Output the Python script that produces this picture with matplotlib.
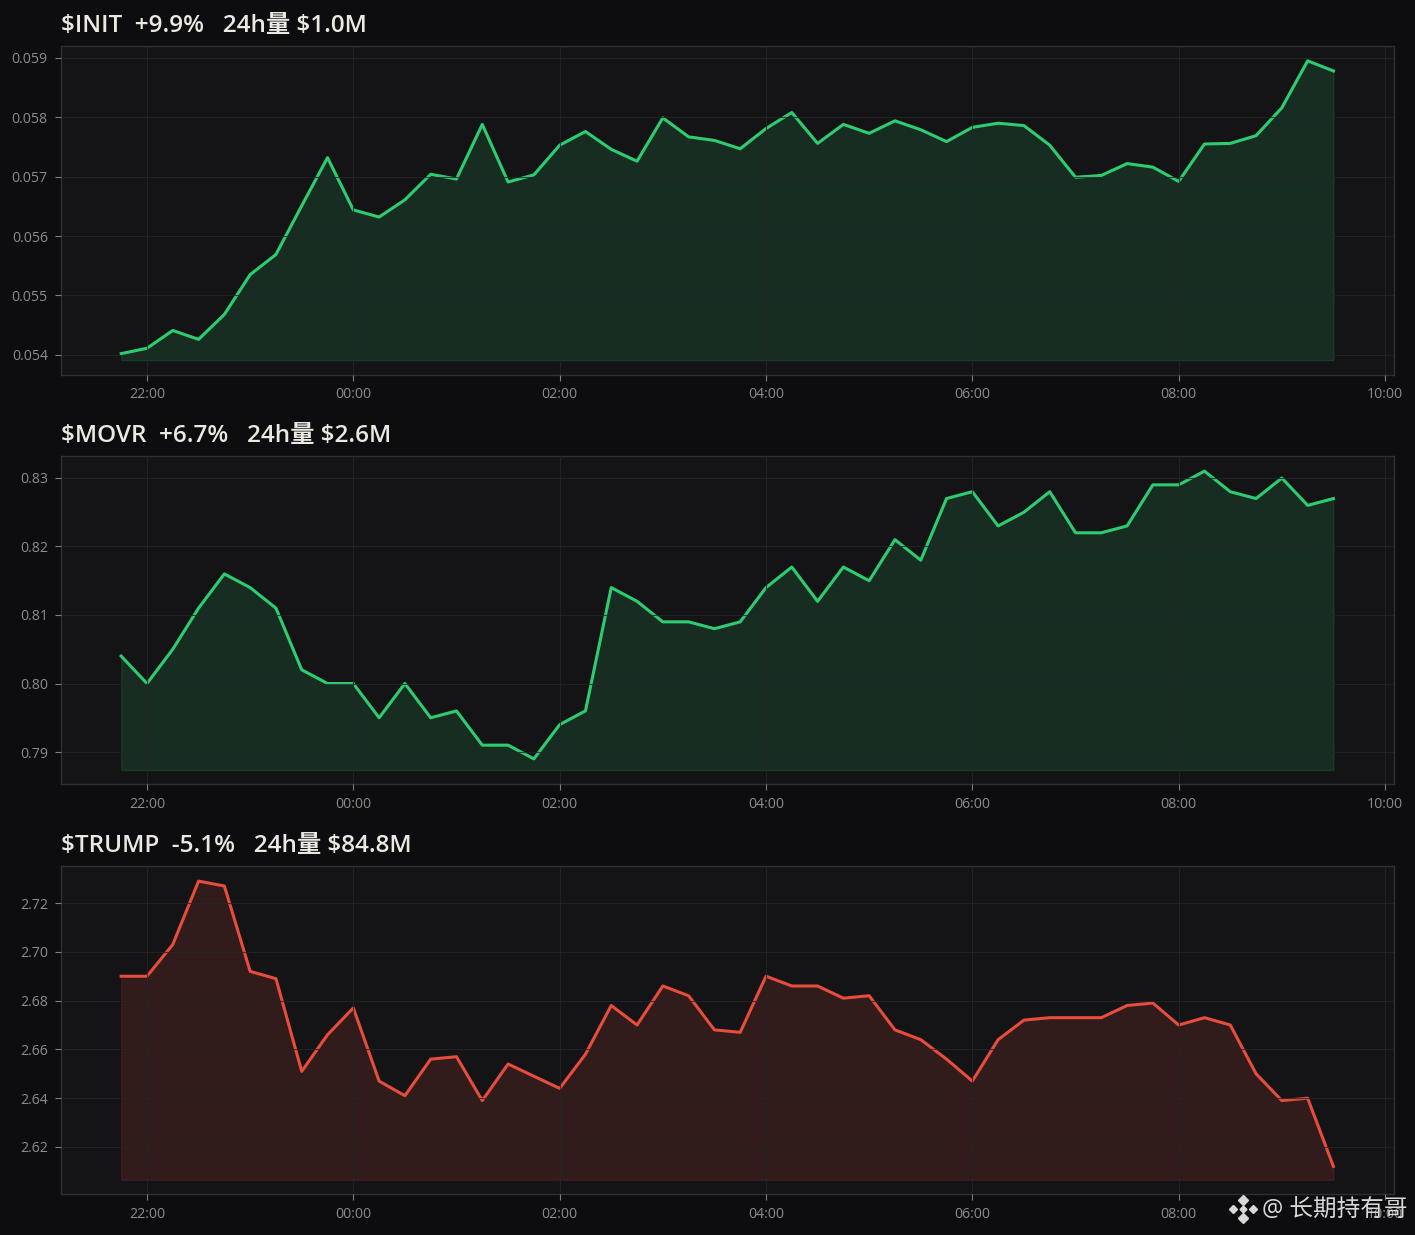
import matplotlib
matplotlib.use("Agg")
import matplotlib.pyplot as plt
import matplotlib.dates as mdates
from matplotlib.lines import Line2D
from matplotlib.ticker import FormatStrFormatter, MultipleLocator
import pandas as pd

plt.rcParams['font.family'] = ['Open Sans', 'Noto Sans CJK SC', 'DejaVu Sans']

times = pd.date_range("2025-01-01 21:45", periods=48, freq="15min")

init_values = [.05402, .05411, .05441, .05426, .05468, .05535, .05569, .05651, .05732, .05644,
               .05632, .05661, .05704, .05696, .05788, .05691, .05703, .05753, .05776, .05746,
               .05726, .05799, .05767, .05761, .05747, .05781, .05808, .05756, .05788, .05773,
               .05794, .05779, .05759, .05783, .05790, .05786, .05753, .05699, .05702, .05722,
               .05716, .05692, .05755, .05756, .05769, .05816, .05895, .05878]
movr_values = [.804, .800, .805, .811, .816, .814, .811, .802, .800, .800,
               .795, .800, .795, .796, .791, .791, .789, .794, .796, .814,
               .812, .809, .809, .808, .809, .814, .817, .812, .817, .815,
               .821, .818, .827, .828, .823, .825, .828, .822, .822, .823,
               .829, .829, .831, .828, .827, .830, .826, .827]
trump_values = [2.690, 2.690, 2.703, 2.729, 2.727, 2.692, 2.689, 2.651, 2.666, 2.677,
                2.647, 2.641, 2.656, 2.657, 2.639, 2.654, 2.649, 2.644, 2.658, 2.678,
                2.670, 2.686, 2.682, 2.668, 2.667, 2.690, 2.686, 2.686, 2.681, 2.682,
                2.668, 2.664, 2.656, 2.647, 2.664, 2.672, 2.673, 2.673, 2.673, 2.678,
                2.679, 2.670, 2.673, 2.670, 2.650, 2.639, 2.640, 2.612]

titles = ["$INIT  +9.9%   24h量 $1.0M", "$MOVR  +6.7%   24h量 $2.6M", "$TRUMP  -5.1%   24h量 $84.8M"]
series = [init_values, movr_values, trump_values]
colors = ["#2ecc71", "#2ecc71", "#e74c3c"]
fill_floors = [0.05391, 0.78737, 2.6065]
y_limits = [(0.05366, 0.05920), (0.78533, 0.83321), (2.6007, 2.7352)]
y_steps = [0.001, 0.01, 0.02]
y_formats = ['%.3f', '%.2f', '%.2f']

W, H = 1415, 1235
BG = "#0d0d10"
PANEL = "#141416"
fig = plt.figure(figsize=(W / 100, H / 100), dpi=100, facecolor=BG)
tops = [46, 456, 866]
bottoms = [375, 784, 1194]
x0 = pd.Timestamp("2025-01-01 21:10")
x1 = x0 + pd.Timedelta(hours=(1394 - 61) / 103.17)

for i in range(3):
    ax = fig.add_axes([61 / W, 1 - bottoms[i] / H, (1394 - 61) / W, (bottoms[i] - tops[i]) / H], facecolor=PANEL)
    ax.fill_between(times, series[i], fill_floors[i], color=colors[i], alpha=0.14, linewidth=1)
    ax.plot(times, series[i], color=colors[i], linewidth=2.2)
    ax.set_xlim(x0, x1)
    ax.set_ylim(*y_limits[i])
    ax.xaxis.set_major_locator(mdates.HourLocator(byhour=range(0, 24, 2)))
    ax.xaxis.set_major_formatter(mdates.DateFormatter("%H:%M"))
    ax.yaxis.set_major_locator(MultipleLocator(y_steps[i]))
    ax.yaxis.set_major_formatter(FormatStrFormatter(y_formats[i]))
    ax.grid(True, color="#26262a", linewidth=0.8, alpha=0.8)
    ax.set_axisbelow(False)
    ax.tick_params(colors="#7f7f7f", labelsize=10.2, length=4, width=0.8)
    ax.tick_params(axis='x', pad=5)
    ax.tick_params(axis='y', pad=5.5)
    ax.tick_params(axis='both', labelcolor="#8c8c8c")
    for s in ax.spines.values():
        s.set_color("#303033")
        s.set_linewidth(1.0)
    fig.text(61 / W, 1 - (tops[i] - 14) / H, titles[i].replace("$", r"\$"), color="#ece9e2", fontsize=17.5,
             fontweight='semibold', va='baseline', ha='left')

# watermark
fig.text(1262 / W, 1 - 1211 / H, "@ 长期持有哥", color="#d8d8d8", fontsize=17, va='center', ha='left')
for dx, dy, ms in [(1243, 1200, 5.5), (1243, 1218, 5.5), (1233, 1209, 4), (1253, 1209, 4), (1243, 1209, 3.5)]:
    fig.add_artist(Line2D([dx / W], [1 - dy / H], marker='D', markersize=ms, color="#d8d8d8",
                          transform=fig.transFigure, linestyle='none'))

fig.savefig("out.png", dpi=100, facecolor=BG)
